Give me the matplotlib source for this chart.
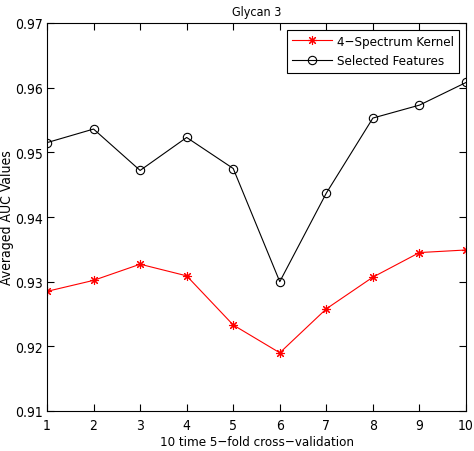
import matplotlib
matplotlib.use('Agg')
import matplotlib.pyplot as plt

# data
folds = [1, 2, 3, 4, 5, 6, 7, 8, 9, 10]
spectrum = [0.9285, 0.9302, 0.9327, 0.9309, 0.9233, 0.9190, 0.9258, 0.9307, 0.9345, 0.9349]
selected = [0.9515, 0.9536, 0.9472, 0.9523, 0.9475, 0.9300, 0.9437, 0.9553, 0.9573, 0.9608]
yticks = [0.91, 0.92, 0.93, 0.94, 0.95, 0.96, 0.97]

plt.rcParams['font.family'] = 'DejaVu Sans'
plt.rcParams['font.stretch'] = 'condensed'
plt.rcParams['font.size'] = 10

fig = plt.figure(figsize=(4.74, 4.52), dpi=100)
ax = fig.add_axes([47/474, 1-412/452, (466-47)/474, (412-24)/452])

# matlab-like asterisk marker (8 spokes)
ax.plot(folds, spectrum, color='red', lw=0.8, marker=(8, 2, 0), ms=6.5, mec='red', mew=0.8,
        label='4\u2212Spectrum Kernel')
ax.plot(folds, selected, color='black', lw=0.8, marker='o', ms=6, mfc='none', mec='black',
        mew=0.8, label='Selected Features')

ax.set_xlim(1, 10)
ax.set_ylim(0.91, 0.97)
ax.set_xticks(folds)
ax.set_yticks(yticks)
ax.set_yticklabels(['%.2f' % v for v in yticks])
ax.tick_params(direction='in', top=True, right=True, length=5, labelsize=10)
ax.tick_params(axis='x', pad=5)
ax.tick_params(axis='y', pad=3)

ax.set_xlabel('10 time 5\u2212fold cross\u2212validation', fontsize=9.5, labelpad=2)
ax.set_ylabel('Averaged AUC Values', fontsize=10, labelpad=1)
ax.set_title('Glycan 3', fontsize=9, pad=6)

leg = ax.legend(loc='upper right', fancybox=False, framealpha=1, edgecolor='black',
                fontsize=9.5, borderaxespad=0.5, borderpad=0.4, labelspacing=0.5,
                handlelength=3.0, handletextpad=0.4)
leg.get_frame().set_linewidth(0.8)

fig.savefig('out.png', dpi=100)
